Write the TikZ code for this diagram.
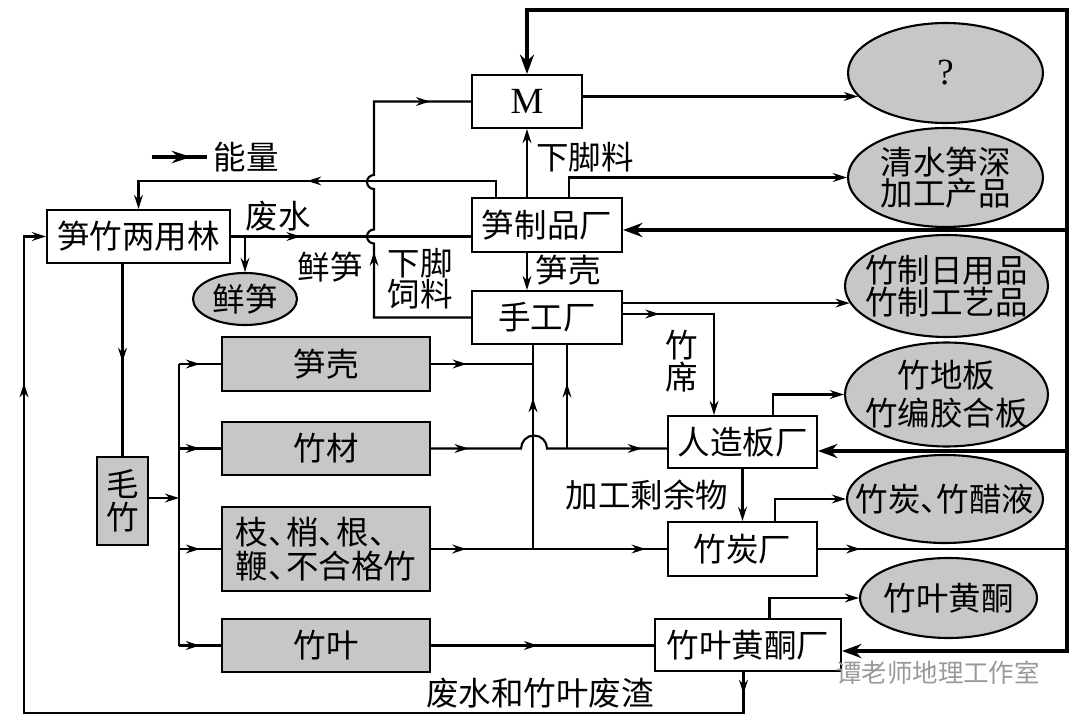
\documentclass[tikz,border=0pt]{standalone}
\usepackage{fontspec}
\setmainfont{Liberation Serif}
\newfontfamily\cjk{Noto Sans CJK SC}
\usetikzlibrary{arrows.meta, positioning, shapes.geometric, decorations.markings}

\tikzset{
  ebig/.tip={Stealth[length=11pt,width=8pt]},
  box/.style={draw, fill=white, inner sep=0pt, minimum height=1.06cm},
  graybox/.style={box, fill=black!22},
  prod/.style={draw, ellipse, fill=black!22, inner sep=0pt},
  energy/.style={line width=2.3pt},
  flowmark/.style={postaction={decorate, decoration={markings,
      mark=at position #1 with {\arrow{Stealth[length=8pt,width=5pt]}}}}}
}

\begin{document}
\begin{tikzpicture}[x=0.02cm, y=-0.02cm, line width=1.2pt,
    >={Stealth[length=8pt,width=5pt]},
    font=\cjk\fontsize{18.5pt}{19pt}\selectfont]
    \useasboundingbox (0,0) rectangle (1080,723);

    % Forest and raw bamboo
    \node[box, minimum width=3.66cm] (lin) at (138.5,236.5) {笋竹两用林};
    \node[prod, minimum width=2.08cm, minimum height=1.04cm] (xs) at (245,299) {鲜笋};
    \node[graybox, minimum width=1.02cm, minimum height=1.76cm, align=center] (mz) at (122.5,501) {毛\\竹};
    \node[graybox, minimum width=4.16cm, minimum height=1.08cm] (sk) at (326,364) {笋壳};
    \node[graybox, minimum width=4.16cm] (cai) at (326,448.5) {竹材};
    \node[graybox, minimum width=4.16cm, minimum height=1.68cm, align=left] (zs) at (326,549)
        {枝、\kern-0.45em 梢、\kern-0.45em 根、\\鞭、\kern-0.45em 不合格竹};
    \node[graybox, minimum width=4.16cm] (ye) at (326,645.5) {竹叶};

    % Factories
    \node[box, minimum width=2.2cm] (M) at (527,101.5) {\rmfamily\fontsize{21pt}{22pt}\selectfont M};
    \node[box, minimum width=3cm, minimum height=1.08cm] (spc) at (547,225) {笋制品厂};
    \node[box, minimum width=3cm] (sgc) at (547,317.5) {手工厂};
    \node[box, minimum width=2.98cm, minimum height=1.04cm] (rzb) at (742.5,442) {人造板厂};
    \node[box, minimum width=2.98cm, minimum height=1.08cm] (tc) at (742.5,549) {竹炭厂};
    \node[box, minimum width=3.72cm, minimum height=1.04cm] (hc) at (748,645) {竹叶黄酮厂};

    % Products
    \node[prod, minimum width=3.9cm, minimum height=2cm] (q) at (945.5,73) {\rmfamily\fontsize{21pt}{22pt}\selectfont ?};
    \node[prod, minimum width=3.9cm, minimum height=1.98cm] (qs) at (945.5,177.5) {};
    \node[align=center, font=\cjk\fontsize{18.5pt}{18pt}\selectfont] (qst) at (qs) {清水笋深\\加工产品};
    \node[prod, minimum width=4.06cm, minimum height=2.04cm] (ry) at (946.5,286) {};
    \node[align=center, font=\cjk\fontsize{18.5pt}{18pt}\selectfont] (ryt) at (ry) {竹制日用品\\竹制工艺品};
    \node[prod, minimum width=4.06cm, minimum height=2.08cm] (db) at (946.5,394.5) {};
    \node[align=center, font=\cjk\fontsize{18.5pt}{21.5pt}\selectfont] (dbt) at (db) {竹地板\\竹编胶合板};
    \node[prod, minimum width=3.92cm, minimum height=1.76cm] (tcy) at (945,499) {};
    \node (tcyt) at (tcy) {竹炭、\kern-0.5em 竹醋液};
    \node[prod, minimum width=3.54cm, minimum height=1.6cm] (hd) at (948.5,598) {};
    \node (hdt) at (hd) {竹叶黄酮};

    % Energy loop
    \coordinate (busTop) at (1067,10);
    \coordinate (busBot) at (1067,651);
    \draw[energy, ebig-ebig] (M.north) |- (busTop) -- (busBot) -- (busBot -| hc.east);
    \draw[energy, ebig-] ([yshift=-0.1cm]spc.east) -- +(445,0);
    \draw[energy, ebig-] ([yshift=-0.18cm]rzb.east) -- +(250,0);
    \draw[flowmark=0.17] (tc.east) -- (tc.east -| busTop);

    % Shoots, waste water and feed
    \draw[flowmark=0.29] (lin.east) -- (lin.east -| spc.west);
    \draw[->, flowmark=0.51] ([xshift=0.5cm]spc.north west) -- ++(0,-16) -| (lin.north);
    \draw[flowmark=0.382, flowmark=0.904] (sgc.west) -| (374,243.5)
        arc[start angle=90, end angle=270, radius=7] -- (374,189)
        arc[start angle=90, end angle=270, radius=7] |- (M.west);
    \draw[->] (M.south |- spc.north) -- (M.south);
    \draw[->] (spc.south -| M.south) -- (sgc.north -| M.south);
    \draw[->] (M.east |- q.195) -- (q.195);
    \draw[->] ([xshift=0.44cm]spc.north) |- (qs.west);
    \draw[->] (sgc.east |- ry.190) -- (ry.190);
    \draw[->, flowmark=0.19] ([yshift=0.07cm]sgc.east) -| ([xshift=-0.57cm]rzb.north);
    \draw[->] (xs.north |- lin.east) -- (xs.north);

    % Bamboo split
    \coordinate (bus) at (179,498);
    \coordinate (col) at (533,0);
    \coordinate (col2) at (567,0);
    \draw[flowmark=0.51] (mz.north |- lin.south) -- (mz.north);
    \draw[->] (mz.east |- bus) -- (bus);
    \draw (sk.west -| bus) -- (ye.west -| bus);
    \foreach \b in {sk,cai,zs,ye}
        \draw[flowmark=0.5] (\b.west -| bus) -- (\b.west);
    \draw[flowmark=0.35] (sk.east) -- (sk.east -| col);
    \draw[flowmark=0.15, flowmark=0.9] (cai.east) -- +(90,0)
        arc[start angle=180, end angle=360, radius=13] -- (cai.east -| rzb.west);
    \draw[flowmark=0.63] (col2 |- cai.east) -- (col2 |- sgc.south);
    \draw[flowmark=0.15, flowmark=0.91] (zs.east) -- (zs.east -| tc.west);
    \draw[flowmark=0.74] (col |- zs.east) -- (col |- sgc.south);
    \draw[flowmark=0.48] (ye.east) -- (ye.east -| hc.west);

    % Boards, charcoal, flavone
    \draw[->] ([xshift=0.61cm]rzb.north) |- (db.west);
    \draw[->] (rzb.south) -- (tc.north);
    \draw[->] ([xshift=0.65cm]tc.north) |- (tcy.west);
    \draw[->] ([xshift=0.43cm]hc.north) |- (hd.west);
    \coordinate (sw) at (24,713);
    \draw[->, flowmark=0.0174, flowmark=0.866] ([xshift=-0.09cm]hc.south) |- (sw) |- (lin.west);

    % Labels
    \node (nl) at (246,157) {能量};
    \draw[energy, postaction={decorate, decoration={markings,
        mark=at position 0.72 with {\arrow{Stealth[length=11pt,width=7pt]}}}}]
        ([xshift=-1.1cm]nl.west) -- (nl.west);
    \node (lfs) at (278,216) {废水};
    \node (lxs) at (330,267) {鲜笋};
    \node[align=left, font=\cjk\fontsize{18.5pt}{17.5pt}\selectfont] (lxj) at (420,279) {下脚\\饲料};
    \node (lxjl) at (585,157) {下脚料};
    \node (lsk) at (568,270) {笋壳};
    \node[align=center, font=\cjk\fontsize{18.5pt}{18.5pt}\selectfont] (lzx) at (682,361) {竹\\席};
    \node (ljg) at (647,495) {加工剩余物};
    \node (lfz) at (540,693) {废水和竹叶废渣};
    \node[text=black!40, font=\cjk\fontsize{14.5pt}{16pt}\selectfont] (wm) at (938,673) {谭老师地理工作室};
\end{tikzpicture}
\end{document}
